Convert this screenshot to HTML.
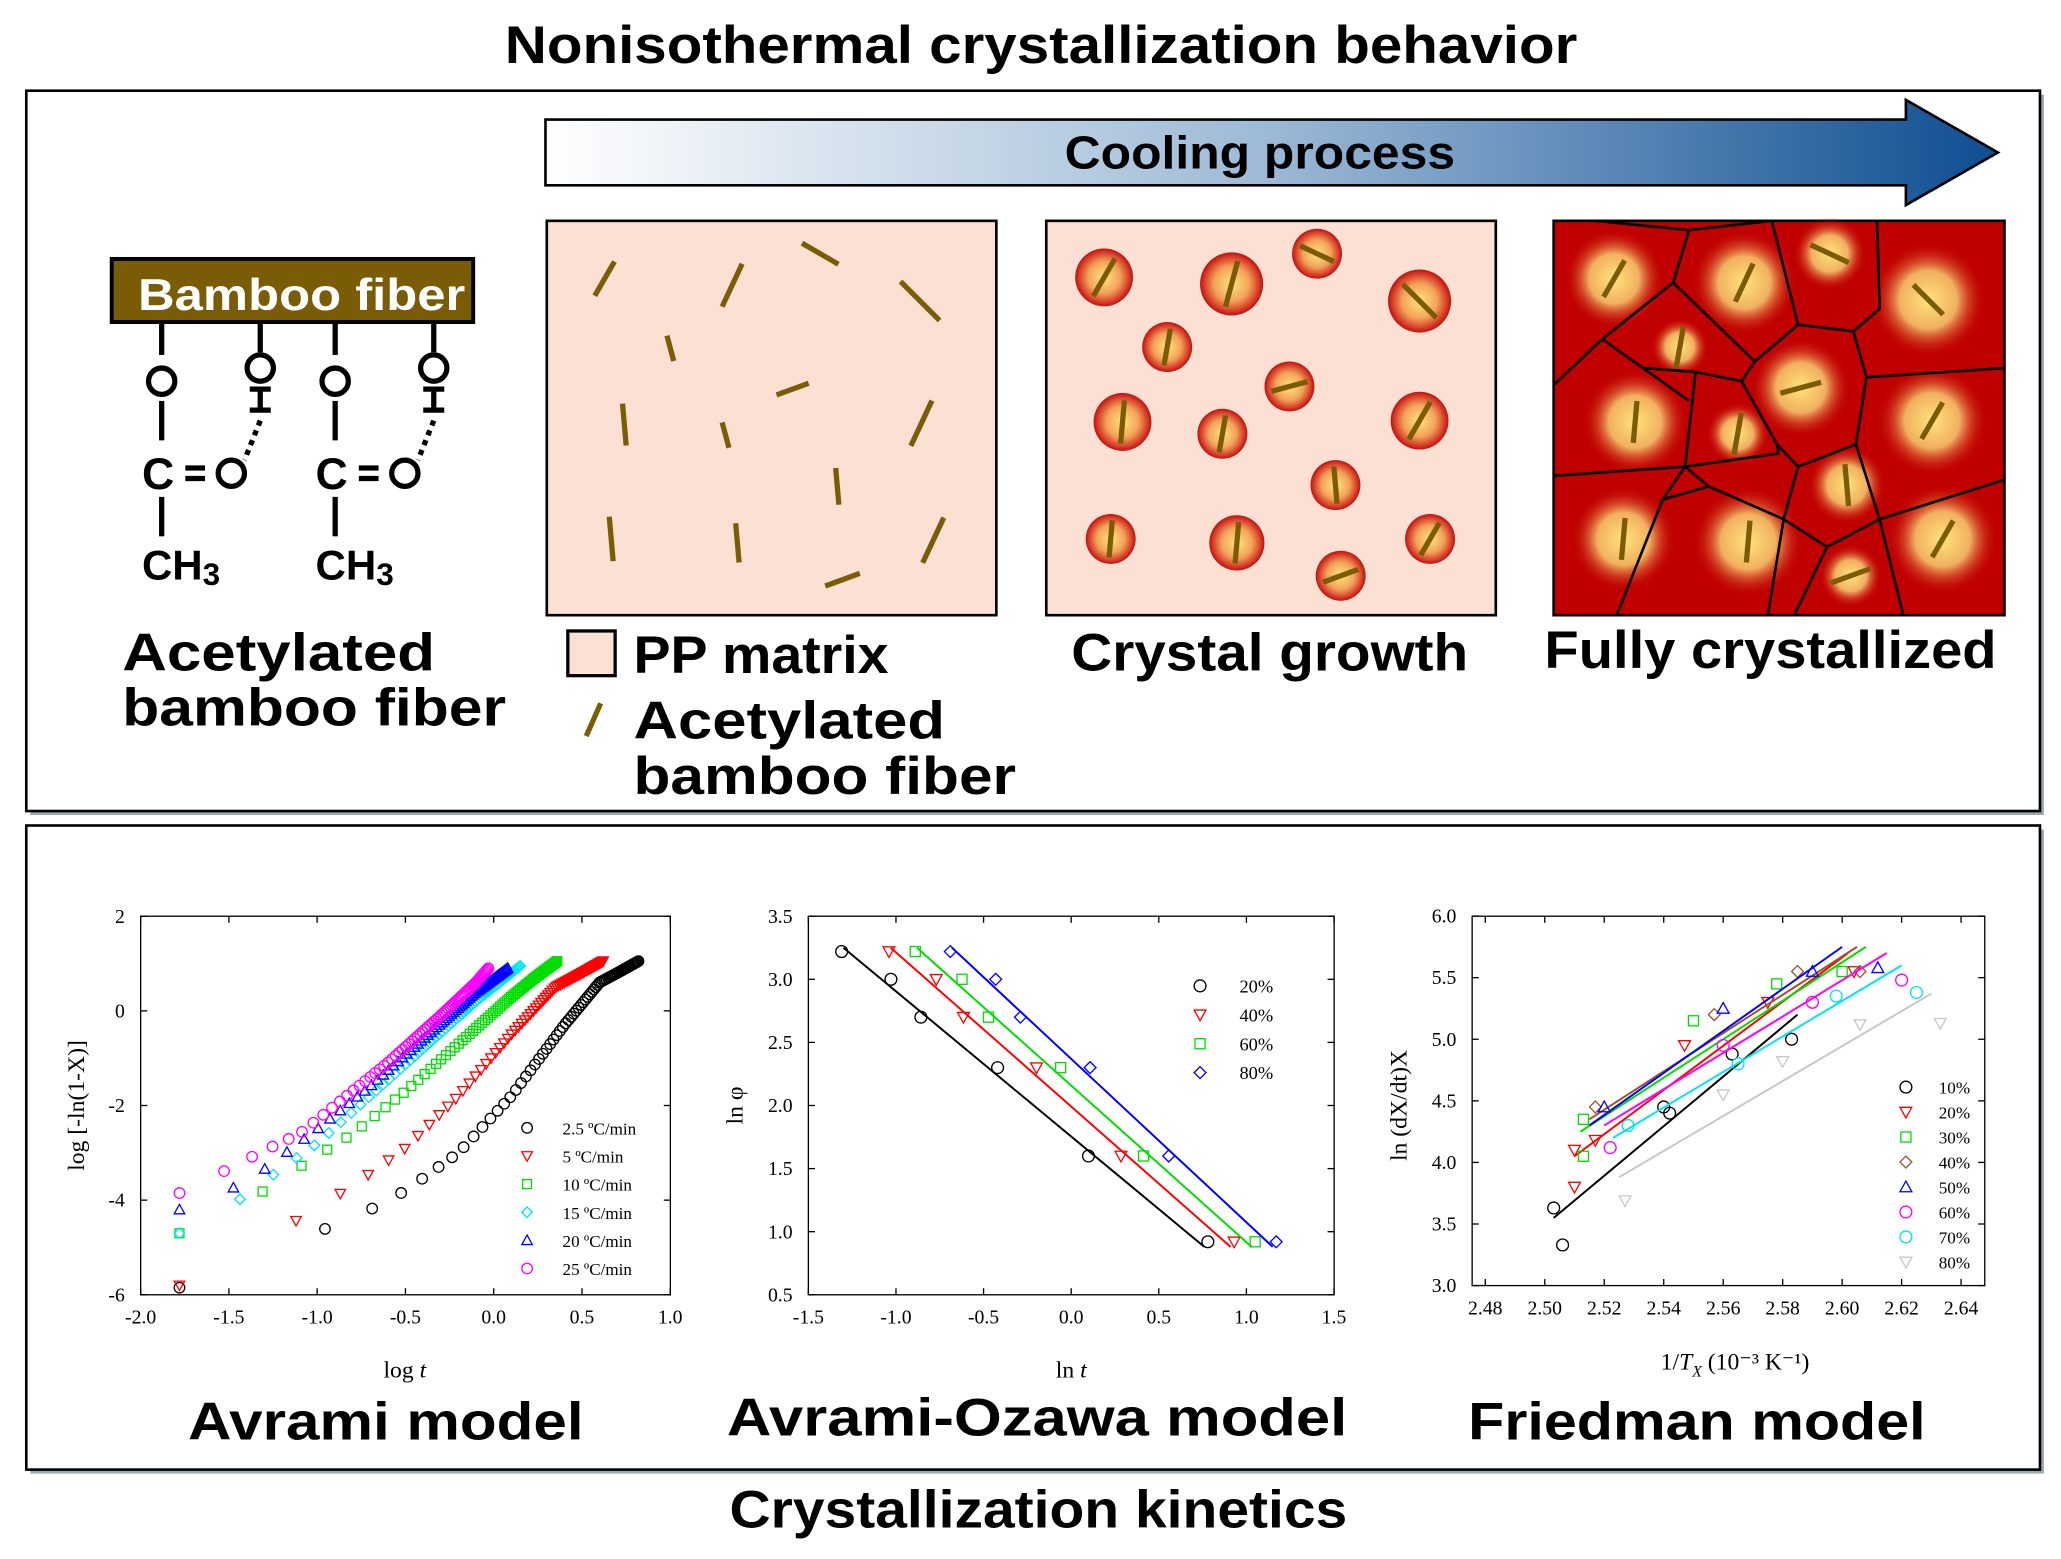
<!DOCTYPE html>
<html><head><meta charset="utf-8"><style>
html,body{margin:0;padding:0;background:#fff;}
svg{display:block;}
.b{font-family:"Liberation Sans",sans-serif;font-weight:bold;fill:#000;}
.s{font-family:"Liberation Serif",serif;fill:#000;}
</style></head><body>
<svg id="g" width="2061" height="1559" viewBox="0 0 1568 1186" preserveAspectRatio="none" xmlns="http://www.w3.org/2000/svg">
<defs>
<linearGradient id="arr" x1="0" x2="1" y1="0" y2="0"><stop offset="0" stop-color="#ffffff"/><stop offset="0.5" stop-color="#9cb9d6"/><stop offset="1" stop-color="#0f4e92"/></linearGradient>
<radialGradient id="sph"><stop offset="0" stop-color="#ffe37a"/><stop offset="0.55" stop-color="#f3a35a"/><stop offset="0.85" stop-color="#d8422a"/><stop offset="1" stop-color="#c01010"/></radialGradient>
<radialGradient id="sph2"><stop offset="0" stop-color="#ffe37a"/><stop offset="0.5" stop-color="#f1b060"/><stop offset="1" stop-color="#c00000" stop-opacity="0"/></radialGradient>
</defs>
<rect width="1568" height="1186" fill="#fff"/>
<text class="b" x="384" y="48" font-size="40" textLength="816" lengthAdjust="spacingAndGlyphs">Nonisothermal crystallization behavior</text>
<rect x="23" y="72" width="1532" height="548" fill="#9aa8b8"/>
<rect x="20" y="69" width="1532" height="548" fill="#fff" stroke="#000" stroke-width="2"/>
<polygon points="415,91 1450,91 1450,76 1520,116 1450,156 1450,141 415,141" fill="url(#arr)" stroke="#000" stroke-width="2"/>
<text class="b" x="810" y="128" font-size="35" textLength="297" lengthAdjust="spacingAndGlyphs">Cooling process</text>
<rect x="85" y="197" width="275" height="48" fill="#7b5c06" stroke="#000" stroke-width="3"/>
<text class="b" x="105" y="236" font-size="34" style="fill:#fff" textLength="249" lengthAdjust="spacingAndGlyphs">Bamboo fiber</text>
<g stroke="#000" stroke-width="4" fill="none">
<line x1="123" y1="245" x2="123" y2="270"/><line x1="123" y1="305" x2="123" y2="335"/><line x1="123" y1="378" x2="123" y2="408"/>
<line x1="255" y1="245" x2="255" y2="270"/><line x1="255" y1="305" x2="255" y2="335"/><line x1="255" y1="378" x2="255" y2="408"/>
<line x1="198" y1="245" x2="198" y2="268"/><line x1="330" y1="245" x2="330" y2="268"/>
<circle cx="123" cy="290" r="10"/><circle cx="255" cy="290" r="10"/>
<circle cx="198" cy="280" r="10"/><circle cx="330" cy="280" r="10"/>
<circle cx="176" cy="360" r="10"/><circle cx="308" cy="360" r="10"/>
<path d="M190 296 h16 M198 296 v16 M190 312 h16 M322 296 h16 M330 296 v16 M322 312 h16"/>
<line x1="198" y1="320" x2="186" y2="350" stroke-dasharray="4,4"/><line x1="330" y1="320" x2="318" y2="350" stroke-dasharray="4,4"/>
<line x1="141" y1="356" x2="156" y2="356"/><line x1="141" y1="364" x2="156" y2="364"/>
<line x1="273" y1="356" x2="288" y2="356"/><line x1="273" y1="364" x2="288" y2="364"/>
</g>
<text class="b" x="108" y="372" font-size="34">C</text><text class="b" x="240" y="372" font-size="34">C</text>
<text class="b" x="108" y="441" font-size="32">CH<tspan font-size="24" dy="4">3</tspan></text>
<text class="b" x="240" y="441" font-size="32">CH<tspan font-size="24" dy="4">3</tspan></text>
<text class="b" x="93" y="510" font-size="40" textLength="238" lengthAdjust="spacingAndGlyphs">Acetylated</text>
<text class="b" x="93" y="552" font-size="40" textLength="292" lengthAdjust="spacingAndGlyphs">bamboo fiber</text>
<rect x="416" y="168" width="342" height="300" fill="#fbe0d3" stroke="#000" stroke-width="2"/>
<rect x="796" y="168" width="342" height="300" fill="#fbe0d3" stroke="#000" stroke-width="2"/>
<rect x="1182" y="168" width="343" height="300" fill="#c00000" stroke="#000" stroke-width="2"/>
<g id="f1"></g><g id="f2"></g><g id="f3"></g>
<rect x="432" y="480" width="36" height="34" fill="#fbe0d3" stroke="#000" stroke-width="2.5"/>
<text class="b" x="482" y="512" font-size="40" textLength="194" lengthAdjust="spacingAndGlyphs">PP matrix</text>
<line x1="457" y1="535" x2="446" y2="560" stroke="#7b5c06" stroke-width="4"/>
<text class="b" x="482" y="562" font-size="40" textLength="237" lengthAdjust="spacingAndGlyphs">Acetylated</text>
<text class="b" x="482" y="604" font-size="40" textLength="291" lengthAdjust="spacingAndGlyphs">bamboo fiber</text>
<text class="b" x="815" y="510" font-size="40" textLength="302" lengthAdjust="spacingAndGlyphs">Crystal growth</text>
<text class="b" x="1175" y="508" font-size="40" textLength="344" lengthAdjust="spacingAndGlyphs">Fully crystallized</text>
<rect x="23" y="631" width="1532" height="490" fill="#9aa8b8"/>
<rect x="20" y="628" width="1532" height="490" fill="#fff" stroke="#000" stroke-width="2"/>
<g id="charts"></g>
<text class="b" x="143" y="1095" font-size="40" textLength="301" lengthAdjust="spacingAndGlyphs">Avrami model</text>
<text class="b" x="553" y="1092" font-size="40" textLength="472" lengthAdjust="spacingAndGlyphs">Avrami-Ozawa model</text>
<text class="b" x="1117" y="1095" font-size="40" textLength="348" lengthAdjust="spacingAndGlyphs">Friedman model</text>
<text class="b" x="555" y="1162" font-size="40" textLength="470" lengthAdjust="spacingAndGlyphs">Crystallization kinetics</text>
</svg>
<script>
const NS="http://www.w3.org/2000/svg";
function el(p,t,a,txt){const e=document.createElementNS(NS,t);for(const k in a)e.setAttribute(k,a[k]);if(txt!==undefined)e.textContent=txt;p.appendChild(e);return e;}
const f1=document.getElementById('f1'),f2=document.getElementById('f2'),f3=document.getElementById('f3');
const BR="#7b5c06";
function fib(p,cx,cy,ang,len){const r=ang*Math.PI/180,dx=Math.cos(r)*len/2,dy=Math.sin(r)*len/2;el(p,'line',{x1:cx-dx,y1:cy-dy,x2:cx+dx,y2:cy+dy,stroke:BR,'stroke-width':4});}
[[460,212,-60,30],[557,217,-65,36],[624,193,30,32],[700,229,45,42],[510,265,75,20],[603,296,-20,26],[475,323,85,32],[552,331,75,20],[701,322,-65,38],[637,370,85,28],[465,410,85,34],[561,413,85,30],[710,411,-65,38],[641,441,-20,28]].forEach(a=>fib(f1,...a));
[[840,211,22,-60],[937,216,24,-75],[1002,193,19,25],[1080,229,24,45],[888,264,19,-80],[981,294,19,-15],[854,321,22,-85],[930,330,19,-80],[1080,320,22,-60],[1016,369,19,85],[845,410,19,-85],[941,413,21,-85],[1088,410,19,-60],[1020,438,19,-20]].forEach(([x,y,r,a])=>{el(f2,'circle',{cx:x,cy:y,r:r,fill:'url(#sph)'});fib(f2,x,y,a,r*1.5);});
[[1228,212,38,-60],[1327,215,40,-65],[1392,193,28,25],[1467,228,44,45],[1278,264,22,-80],[1370,295,38,-15],[1244,321,40,-85],[1322,330,24,-80],[1470,320,42,-60],[1405,369,30,85],[1235,410,40,-85],[1330,412,42,-85],[1478,410,42,-60],[1408,438,24,-20]].forEach(([x,y,r,a])=>{el(f3,'circle',{cx:x,cy:y,r:r,fill:'url(#sph2)'});fib(f3,x,y,a,32);});
["M1214 168 L1285 175 L1273 215 L1219 258 L1182 293","M1285 175 L1348 168","M1273 215 L1335 275","M1219 258 L1250 280 L1285 305","M1250 280 L1290 283 L1282 355","M1290 283 L1325 290 L1335 275 L1368 247 L1410 252 L1430 235 L1428 168","M1348 168 L1368 247","M1325 290 L1352 338 L1368 355 L1412 338 L1420 287 L1410 252","M1420 287 L1525 280","M1282 355 L1353 345 L1352 338","M1182 362 L1282 355 L1300 370 L1265 380 L1282 355","M1300 370 L1357 395 L1368 355","M1357 395 L1390 416 L1430 395 L1412 338","M1430 395 L1525 365","M1390 416 L1365 468","M1430 395 L1448 468","M1265 380 L1230 468","M1357 395 L1345 468"].forEach(d=>el(f3,'path',{d:d,fill:'none',stroke:'#000','stroke-width':2}));

const C=document.getElementById('charts');
function axes(x0,x1,y0,y1,xt,yt,xf,yf,xlabFn,ylabFn){
 el(C,'rect',{x:x0,y:y0,width:x1-x0,height:y1-y0,fill:'none',stroke:'#000','stroke-width':1});
 xt.forEach(v=>{const x=xf(v);el(C,'line',{x1:x,x2:x,y1:y1,y2:y1-5,stroke:'#000'});el(C,'line',{x1:x,x2:x,y1:y0,y2:y0+5,stroke:'#000'});el(C,'text',{x:x,y:y1+22,'font-size':15,'text-anchor':'middle',class:'s'},xlabFn(v));});
 yt.forEach(v=>{const y=yf(v);el(C,'line',{x1:x0,x2:x0+5,y1:y,y2:y,stroke:'#000'});el(C,'line',{x1:x1,x2:x1-5,y1:y,y2:y,stroke:'#000'});el(C,'text',{x:x0-12,y:y+5,'font-size':15,'text-anchor':'end',class:'s'},ylabFn(v));});
}
function mk(type,x,y,c,s){s=s||4.5;
 if(type==0)el(C,'circle',{cx:x,cy:y,r:s,fill:'none',stroke:c,'stroke-width':1});
 else if(type==1)el(C,'polygon',{points:`${x-s},${y-s*0.8} ${x+s},${y-s*0.8} ${x},${y+s}`,fill:'none',stroke:c,'stroke-width':1});
 else if(type==2)el(C,'rect',{x:x-s*0.85,y:y-s*0.85,width:s*1.7,height:s*1.7,fill:'none',stroke:c,'stroke-width':1});
 else if(type==3)el(C,'polygon',{points:`${x},${y-s} ${x+s},${y} ${x},${y+s} ${x-s},${y}`,fill:'none',stroke:c,'stroke-width':1});
 else if(type==4)el(C,'polygon',{points:`${x-s},${y+s*0.8} ${x+s},${y+s*0.8} ${x},${y-s}`,fill:'none',stroke:c,'stroke-width':1});
 else if(type==5)el(C,'polygon',{points:`${x-s},${y-s*0.8} ${x+s},${y-s*0.8} ${x},${y+s}`,fill:'none',stroke:c,'stroke-width':1});
}
// Avrami
{const xf=v=>107+(v+2)*134.3,yf=v=>985-(v+6)*36;
axes(107,510,697,985,[-2,-1.5,-1,-0.5,0,0.5,1],[-6,-4,-2,0,2],xf,yf,v=>v.toFixed(1),v=>String(v));
el(C,'text',{x:308,y:1048,'font-size':18,'text-anchor':'middle',class:'s'},'log ').appendChild(Object.assign(document.createElementNS(NS,'tspan'),{textContent:'t'})).setAttribute('font-style','italic');
el(C,'text',{x:0,y:0,'font-size':18,'text-anchor':'middle',class:'s',transform:'translate(64,841) rotate(-90)'},'log [-ln(1-X)]');
const S=[["#000",[[-1.78,-5.85],[-1.5,-5.35],[-1.3,-5.05],[-1.1,-4.8],[-0.8,-4.4],[-0.5,-3.8],[-0.2,-3.0],[0.1,-1.8],[0.4,-0.3],[0.6,0.6],[0.7,0.8],[0.82,1.05]]],
["#ff0000",[[-1.78,-5.8],[-1.5,-5.1],[-1.3,-4.75],[-1.1,-4.4],[-0.8,-3.7],[-0.5,-2.9],[-0.2,-1.8],[0.1,-0.5],[0.35,0.5],[0.5,0.8],[0.62,1.05]]],
["#00dd00",[[-1.78,-4.7],[-1.48,-4.15],[-1.3,-3.8],[-1.1,-3.3],[-0.8,-2.6],[-0.5,-1.7],[-0.2,-0.7],[0.1,0.3],[0.25,0.75],[0.36,1.05]]],
["#00e5f0",[[-1.78,-4.7],[-1.48,-4.1],[-1.3,-3.6],[-1.0,-2.8],[-0.7,-1.8],[-0.4,-0.8],[-0.1,0.2],[0.05,0.65],[0.15,0.95]]],
["#0000ff",[[-1.78,-4.2],[-1.48,-3.75],[-1.3,-3.35],[-1.0,-2.5],[-0.7,-1.6],[-0.4,-0.6],[-0.1,0.4],[0.08,0.9]]],
["#ff00ff",[[-1.78,-3.85],[-1.48,-3.3],[-1.3,-2.95],[-1.1,-2.6],[-0.9,-2.0],[-0.6,-1.1],[-0.3,-0.1],[-0.1,0.6],[-0.03,0.9]]]];
const types=[0,1,2,3,4,0];
function interp(p,x){for(let i=0;i<p.length-1;i++){if(x<=p[i+1][0]){const t=(x-p[i][0])/(p[i+1][0]-p[i][0]);return p[i][1]+t*(p[i+1][1]-p[i][1]);}}return p[p.length-1][1];}
S.forEach(([c,p],k)=>{const t0=Math.pow(10,p[0][0]),t1=Math.pow(10,p[p.length-1][0]);const N=70;
 for(let i=0;i<=N;i++){const t=t0+(t1-t0)*i/N;const lx=Math.log10(t);mk(types[k],xf(lx),yf(interp(p,lx)),c,4);}});
const L=["2.5 ºC/min","5 ºC/min","10 ºC/min","15 ºC/min","20 ºC/min","25 ºC/min"];
L.forEach((s,k)=>{const y=858+k*21.4;mk(types[k],401,y,S[k][0],4);el(C,'text',{x:428,y:y+5,'font-size':13,class:'s'},s);});
}
// Ozawa
{const xf=v=>615+(v+1.5)*133.3,yf=v=>985-(v-0.5)*96;
axes(615,1015,697,985,[-1.5,-1,-0.5,0,0.5,1,1.5],[0.5,1,1.5,2,2.5,3,3.5],xf,yf,v=>v.toFixed(1),v=>v.toFixed(1));
const t=el(C,'text',{x:815,y:1048,'font-size':18,'text-anchor':'middle',class:'s'},'ln ');const ts=document.createElementNS(NS,'tspan');ts.textContent='t';ts.setAttribute('font-style','italic');t.appendChild(ts);
el(C,'text',{x:0,y:0,'font-size':18,'text-anchor':'middle',class:'s',transform:'translate(565,841) rotate(-90)'},'ln φ');
const O=[["#000",-1.27,0.73],["#ff0000",-1.0,0.88],["#00dd00",-0.85,1.0],["#0000ff",-0.65,1.12]];
const ys=[3.22,3.0,2.7,2.3,1.6,0.92],tp=[0,1,2,3];
O.forEach(([c,a,b],k)=>{el(C,'line',{x1:xf(a-0.03),y1:yf(3.25),x2:xf(b+0.03),y2:yf(0.88),stroke:c,'stroke-width':1.5});
 ys.forEach((y,i)=>{const f=(3.22-y)/2.3;let x=a+(b-a)*f+((i%2)?0.05:-0.04);mk(tp[k],xf(x),yf(y),c,4.5);});
 mk(tp[k],913,750+k*22,c,4.5);el(C,'text',{x:943,y:755+k*22,'font-size':14,class:'s'},['20%','40%','60%','80%'][k]);});
}
// Friedman
{const xf=v=>1130+(v-2.48)*2262.5,yf=v=>978-(v-3)*93.7;
axes(1120,1510,697,978,[2.48,2.5,2.52,2.54,2.56,2.58,2.6,2.62,2.64],[3,3.5,4,4.5,5,5.5,6],xf,yf,v=>v.toFixed(2),v=>v.toFixed(1));
const t=el(C,'text',{x:1320,y:1042,'font-size':18,'text-anchor':'middle',class:'s'},'1/');
const tT=document.createElementNS(NS,'tspan');tT.textContent='T';tT.setAttribute('font-style','italic');t.appendChild(tT);
const tX=document.createElementNS(NS,'tspan');tX.textContent='X';tX.setAttribute('font-style','italic');tX.setAttribute('font-size','12');tX.setAttribute('dy','5');t.appendChild(tX);
const tr=document.createElementNS(NS,'tspan');tr.textContent=' (10⁻³ K⁻¹)';tr.setAttribute('dy','-5');t.appendChild(tr);
el(C,'text',{x:0,y:0,'font-size':18,'text-anchor':'middle',class:'s',transform:'translate(1070,841) rotate(-90)'},'ln (dX/dt)X');
const F=[["#000",[2.503,3.55,2.585,5.2],[[2.503,3.63],[2.506,3.33],[2.54,4.45],[2.563,4.88],[2.583,5.0],[2.542,4.4]],0],
["#ff0000",[2.51,4.05,2.602,5.7],[[2.51,4.1],[2.51,3.8],[2.517,4.18],[2.547,4.95],[2.575,5.3],[2.604,5.55]],1],
["#00dd00",[2.512,4.25,2.608,5.75],[[2.513,4.05],[2.513,4.35],[2.55,5.15],[2.578,5.45],[2.6,5.55]],2],
["#a0522d",[2.515,4.35,2.605,5.75],[[2.517,4.45],[2.557,5.2],[2.585,5.55],[2.606,5.55]],3],
["#0000ff",[2.515,4.3,2.6,5.75],[[2.52,4.45],[2.56,5.25],[2.59,5.55],[2.612,5.58]],4],
["#ff00ff",[2.52,4.3,2.615,5.7],[[2.522,4.12],[2.56,4.95],[2.59,5.3],[2.62,5.48]],0],
["#00e5f0",[2.523,4.2,2.62,5.6],[[2.528,4.3],[2.565,4.8],[2.598,5.35],[2.625,5.38]],0],
["#c8c8c8",[2.525,3.88,2.63,5.37],[[2.527,3.69],[2.56,4.55],[2.58,4.82],[2.606,5.12],[2.633,5.13]],5]];
F.forEach(([c,l,pts,ty],k)=>{el(C,'line',{x1:xf(l[0]),y1:yf(l[1]),x2:xf(l[2]),y2:yf(l[3]),stroke:c,'stroke-width':1.5});
 pts.forEach(p=>mk(ty,xf(p[0]),yf(p[1]),c,4.5));
 const y=827+k*19;mk(ty,1450,y,c,4.5);el(C,'text',{x:1475,y:y+5,'font-size':13,class:'s'},(k+1)*10+'%');});
}
</script>
</body></html>
